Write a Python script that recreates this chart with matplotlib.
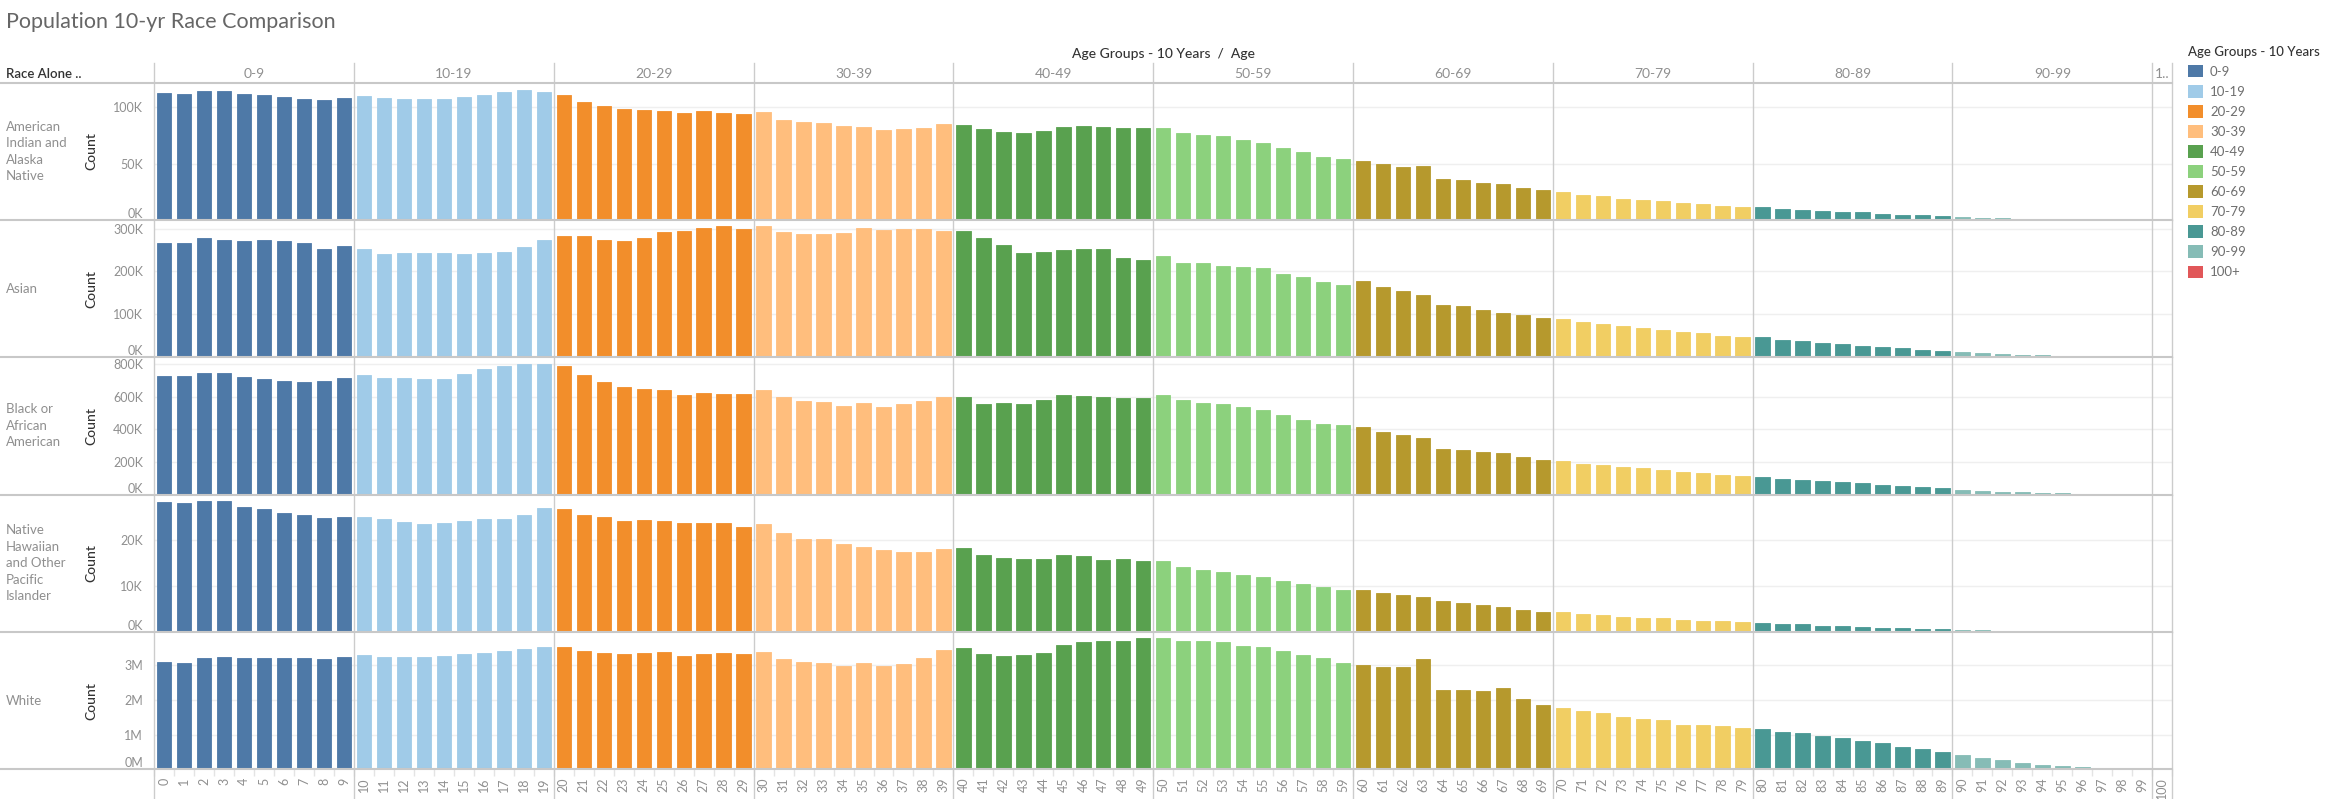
import matplotlib
matplotlib.use("Agg")
import matplotlib.pyplot as plt
from matplotlib.patches import Patch
from matplotlib.lines import Line2D
import numpy as np

plt.rcParams['font.family'] = ['Lato', 'DejaVu Sans']

# ---------------- data ----------------
ages = list(range(0, 101))
age_groups = ["0-9", "10-19", "20-29", "30-39", "40-49", "50-59",
              "60-69", "70-79", "80-89", "90-99", "100+"]
group_colors = ["#4e79a7", "#a0cbe8", "#f28e2b", "#ffbe7d", "#59a14f", "#8cd17d",
                "#b6992d", "#f1ce63", "#499894", "#86bcb6", "#e15759"]
races = ["American\nIndian and\nAlaska\nNative", "Asian", "Black or\nAfrican\nAmerican",
         "Native\nHawaiian\nand Other\nPacific\nIslander", "White"]

# American Indian and Alaska Native (thousands)
aian_k = [112.7, 111.8, 114.5, 114.5, 111.8, 110.9, 109.2, 107.4, 106.5, 108.3,
          110.1, 108.3, 107.4, 107.4, 107.4, 109.2, 110.9, 113.6, 115.4, 113.6,
          110.9, 104.7, 101.2, 98.5, 97.6, 96.7, 95.0, 96.7, 95.0, 94.1,
          95.9, 88.8, 87.0, 86.1, 83.4, 82.5, 79.9, 80.8, 81.7, 85.2,
          84.3, 80.8, 78.1, 77.2, 79.0, 82.5, 83.4, 82.5, 81.7, 81.7,
          81.7, 77.2, 75.4, 74.6, 71.0, 68.3, 63.9, 60.4, 55.9, 54.1,
          52.4, 49.7, 47.0, 47.9, 36.4, 35.5, 32.8, 32.0, 28.4, 26.6,
          24.9, 22.2, 21.3, 18.6, 17.8, 16.9, 15.1, 14.2, 12.4, 11.5,
          11.5, 9.8, 8.9, 8.0, 7.1, 7.1, 5.3, 4.4, 4.4, 3.6,
          2.7, 1.8, 1.8, 0.9, 0.9, 0.9, 0.9, 0.5, 0.3, 0.2,
          0.9]
# Asian (thousands)
asian_k = [267.5, 267.5, 279.2, 274.5, 272.2, 274.5, 272.2, 267.5, 253.3, 260.4,
           253.3, 241.6, 243.9, 243.9, 243.9, 241.6, 243.9, 246.3, 258.0, 274.5,
           281.6, 281.6, 274.5, 272.2, 279.2, 291.0, 293.3, 300.4, 305.1, 298.0,
           305.1, 291.0, 286.3, 286.3, 288.6, 300.4, 295.7, 298.0, 298.0, 293.3,
           293.3, 276.9, 262.7, 243.9, 246.3, 251.0, 253.3, 253.3, 232.2, 227.5,
           236.9, 220.4, 220.4, 213.3, 211.0, 208.6, 194.5, 187.5, 175.7, 168.6,
           178.0, 163.9, 154.5, 145.1, 121.6, 119.2, 109.8, 102.7, 98.0, 91.0,
           89.1, 82.2, 77.5, 72.9, 68.2, 63.6, 58.9, 56.6, 49.6, 47.3,
           47.3, 40.3, 38.0, 33.3, 31.0, 26.4, 24.0, 21.7, 17.1, 14.7,
           12.4, 10.1, 7.8, 5.4, 5.4, 3.1, 3.1, 3.1, 3.1, 1.0,
           2.5]
# Black or African American (thousands)
black_k = [728, 728, 747, 747, 722, 710, 697, 691, 697, 716,
           735, 716, 716, 710, 710, 741, 772, 790, 802, 802,
           790, 735, 691, 661, 648, 642, 611, 623, 617, 617,
           642, 599, 574, 568, 543, 562, 537, 556, 574, 599,
           599, 556, 562, 556, 580, 611, 605, 599, 593, 593,
           611, 580, 562, 556, 537, 519, 488, 457, 432, 426,
           414, 383, 364, 346, 278, 272, 259, 253, 228, 210,
           206, 187, 181, 169, 163, 150, 138, 132, 119, 113,
           107, 95, 88, 82, 76, 70, 57, 51, 45, 39,
           31, 25, 18, 18, 12, 12, 6, 5, 4, 3,
           6]
# Native Hawaiian and Other Pacific Islander (thousands)
nhpi_k = [28.2, 28.0, 28.4, 28.4, 27.1, 26.6, 25.8, 25.3, 24.7, 24.9,
          24.9, 24.5, 23.8, 23.4, 23.6, 24.0, 24.5, 24.5, 25.3, 26.9,
          26.6, 25.3, 24.9, 24.0, 24.2, 24.0, 23.6, 23.6, 23.6, 22.7,
          23.4, 21.4, 20.1, 20.1, 19.0, 18.5, 17.7, 17.4, 17.4, 18.1,
          18.3, 16.6, 16.1, 15.9, 15.9, 16.8, 16.4, 15.7, 15.9, 15.3,
          15.5, 14.2, 13.5, 13.1, 12.4, 12.0, 11.1, 10.4, 9.8, 9.1,
          9.1, 8.5, 8.0, 7.6, 6.7, 6.3, 5.8, 5.4, 4.7, 4.3,
          4.3, 3.9, 3.6, 3.2, 3.0, 3.0, 2.6, 2.3, 2.3, 2.1,
          1.9, 1.7, 1.7, 1.2, 1.2, 1.0, 0.8, 0.8, 0.6, 0.6,
          0.4, 0.4, 0.15, 0.15, 0.15, 0.15, 0.05, 0.03, 0.02, 0.01,
          0.15]
# White (millions)
white_m = [3.107, 3.078, 3.194, 3.223, 3.194, 3.194, 3.194, 3.194, 3.165, 3.223,
           3.282, 3.223, 3.223, 3.223, 3.252, 3.311, 3.340, 3.398, 3.456, 3.515,
           3.515, 3.398, 3.340, 3.311, 3.340, 3.369, 3.252, 3.311, 3.340, 3.311,
           3.369, 3.165, 3.107, 3.078, 2.990, 3.078, 2.990, 3.049, 3.194, 3.427,
           3.485, 3.311, 3.252, 3.282, 3.340, 3.573, 3.660, 3.689, 3.689, 3.777,
           3.777, 3.689, 3.689, 3.660, 3.544, 3.515, 3.398, 3.282, 3.194, 3.078,
           3.019, 2.961, 2.961, 3.165, 2.291, 2.291, 2.262, 2.350, 2.029, 1.854,
           1.767, 1.680, 1.621, 1.505, 1.447, 1.417, 1.272, 1.272, 1.243, 1.184,
           1.155, 1.068, 1.039, 0.951, 0.893, 0.806, 0.748, 0.631, 0.573, 0.485,
           0.398, 0.311, 0.252, 0.194, 0.136, 0.107, 0.078, 0.049, 0.020, 0.020,
           0.049]

series = [np.array(aian_k) * 1e3, np.array(asian_k) * 1e3, np.array(black_k) * 1e3,
          np.array(nhpi_k) * 1e3, np.array(white_m) * 1e6]
y_max = [121.8e3, 320e3, 843e3, 29.8e3, 3.96e6]
y_ticks = [[0, 50e3, 100e3], [0, 100e3, 200e3, 300e3], [0, 200e3, 400e3, 600e3, 800e3],
           [0, 10e3, 20e3], [0, 1e6, 2e6, 3e6]]
y_tick_labels = [["0K", "50K", "100K"], ["0K", "100K", "200K", "300K"],
                 ["0K", "200K", "400K", "600K", "800K"], ["0K", "10K", "20K"],
                 ["0M", "1M", "2M", "3M"]]

# ---------------- layout ----------------
W, H = 2326, 799
fig = plt.figure(figsize=(W / 100, H / 100), dpi=100)
L, R = 0.0663, 0.9339
TOP = 0.8965
ROW_H = 0.17185
SEP = "#c8c8c8"
LIGHT = "#8f8f8f"

bar_colors = [group_colors[min(a // 10, 10)] for a in ages]
boundaries = [-0.5] + [g * 10 + 9.5 for g in range(10)] + [100.5]

axes = []
for i, vals in enumerate(series):
    ax = fig.add_axes([L, TOP - (i + 1) * ROW_H, R - L, ROW_H])
    axes.append(ax)
    ax.bar(ages, vals, width=0.72, color=bar_colors, edgecolor=bar_colors,
           linewidth=0.6, zorder=2)
    ax.set_xlim(-0.5, 100.5)
    ax.set_ylim(0, y_max[i])
    ax.set_yticks(y_ticks[i])
    labs = ax.set_yticklabels(y_tick_labels[i])
    labs[0].set_verticalalignment("bottom")
    ax.tick_params(axis="y", length=0, pad=8, labelsize=9, labelcolor=LIGHT)
    ax.yaxis.grid(True, color="#efefef", lw=1, zorder=0)
    ax.set_axisbelow(True)
    for s in ax.spines.values():
        s.set_visible(False)
    ax.set_ylabel("Count", fontsize=10, color="#333333", fontweight="medium")
    ax.yaxis.set_label_coords((0.042 - L) / (R - L), 0.5)
    ymin_ext = -0.3 if i == 4 else 0
    ymax_ext = 1.146 if i == 0 else 1
    for b in boundaries:
        ax.axvline(b, ymin=ymin_ext, ymax=ymax_ext, color="#cccccc", lw=1,
                   clip_on=False, zorder=1)
    if i < 4:
        ax.set_xticks([])
    else:
        ax.set_xticks(ages)
        ax.set_xticklabels([str(a) for a in ages], rotation=90, fontsize=9,
                           color=LIGHT, va="top")
        ax.tick_params(axis="x", which="major", length=0, pad=6)
        ax.set_xticks(np.arange(-0.5, 101, 1), minor=True)
        ax.tick_params(axis="x", which="minor", length=5, color="#e4e4e4", width=1)
    # row label
    fig.text(0.0026, TOP - (i + 0.5) * ROW_H, races[i], ha="left", va="center",
             fontsize=9.5, color=LIGHT, linespacing=1.45)

# horizontal separators
for i in range(6):
    y = TOP - i * ROW_H
    fig.add_artist(Line2D([0, R], [y, y], transform=fig.transFigure, color=SEP, lw=1.5))

# header
ax0 = axes[0]
htrans = ax0.get_xaxis_transform()
for g, name in enumerate(age_groups):
    label = name if g < 10 else "1.."
    xc = g * 10 + 4.5 if g < 10 else 100
    ax0.text(xc, 1.063, label, transform=htrans, ha="center", va="center",
             fontsize=10, color=LIGHT, clip_on=False)
fig.text(0.0026, 0.907, "Race Alone ..", ha="left", va="center", fontsize=9.5,
         color="#333333", fontweight="semibold")
fig.text((L + R) / 2, 0.932, "Age Groups - 10 Years  /  Age", ha="center", va="center",
         fontsize=10, color="#333333", fontweight="medium")

# title
fig.text(0.0026, 0.973, "Population 10-yr Race Comparison", ha="left", va="center",
         fontsize=15.5, color="#666666", fontweight="normal")

# legend
handles = [Patch(facecolor=c, edgecolor="none") for c in group_colors]
leg = fig.legend(handles, age_groups, loc="upper left", bbox_to_anchor=(0.9405, 0.943),
                 frameon=False, title="Age Groups - 10 Years", alignment="left",
                 fontsize=9.5, title_fontsize=9.5, handlelength=1.15, handleheight=1.1,
                 handletextpad=0.55, labelspacing=0.55, borderpad=0, borderaxespad=0)
leg.get_title().set_color("#333333")
leg.get_title().set_fontweight("medium")
for t in leg.get_texts():
    t.set_color("#6e6e6e")

fig.savefig("out.png", dpi=100)
